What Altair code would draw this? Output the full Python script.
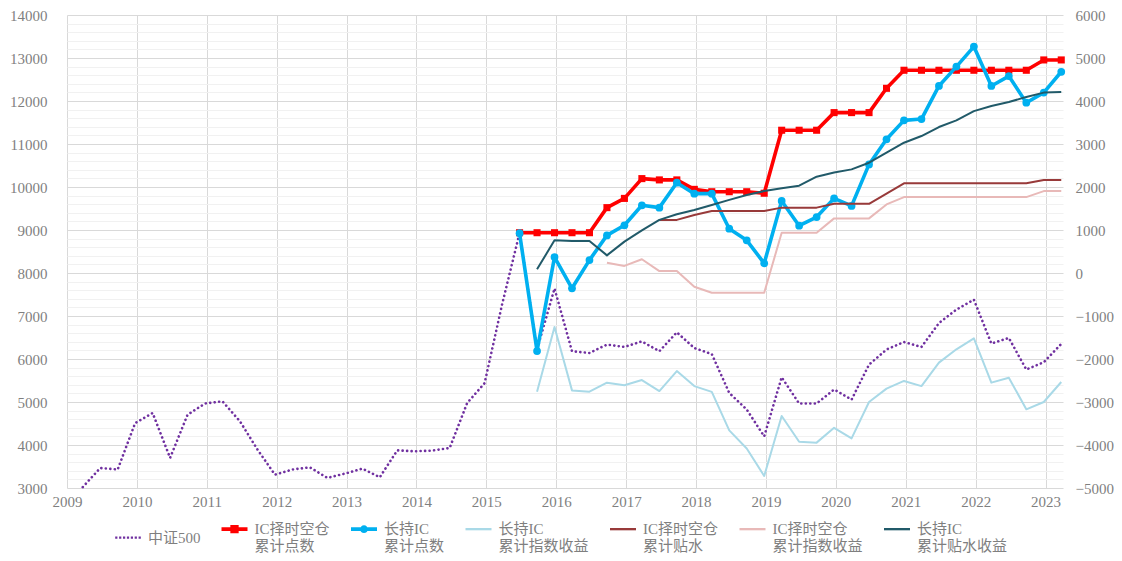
import altair as alt
import pandas as pd

# ---------------- data (quarterly observations) ----------------
start_year = 2009.225
quarter = 0.25

csi500 = [3020, 3465, 3430, 4510, 4745, 3700, 4705, 4965, 5015, 4550,
          3895, 3310, 3430, 3480, 3235, 3335, 3450, 3250, 3875, 3855,
          3870, 3930, 4975, 5440, 7270, 8930, 6220, 7640, 6180, 6140,
          6335, 6280, 6410, 6180, 6620, 6255, 6115, 5210, 4825, 4200,
          5575, 4965, 4965, 5290, 5055, 5870, 6220, 6395, 6280, 6835,
          7150, 7380, 6360, 6490, 5755, 5925, 6350]

ic_timing_points = [937, 937, 937, 937, 937, 1520, 1735, 2195, 2165, 2165,
                    1945, 1890, 1890, 1890, 1855, 3320, 3320, 3320, 3730, 3730,
                    3730, 4295, 4715, 4715, 4715, 4715, 4715, 4715, 4715, 4715,
                    4955, 4955]

hold_ic_points = [925, -1815, 370, -355, 300, 875, 1110, 1575, 1520, 2100,
                  1845, 1845, 1030, 760, 225, 1675, 1100, 1300, 1735, 1560,
                  2525, 3110, 3550, 3580, 4350, 4800, 5265, 4350, 4580, 3960,
                  4195, 4680]

hold_ic_index = [-2760, -1255, -2730, -2760, -2550, -2610, -2490, -2745, -2280, -2630,
                 -2765, -3660, -4080, -4720, -3325, -3925, -3945, -3600, -3845, -3000,
                 -2690, -2510, -2630, -2085, -1775, -1520, -2550, -2435, -3170, -3000,
                 -2535]

ic_timing_basis = [1235, 1235, 1350, 1440, 1440, 1440, 1440, 1520, 1520, 1520,
                   1610, 1610, 1610, 1845, 2085, 2085, 2085, 2085, 2085, 2085,
                   2085, 2085, 2165, 2165]

ic_timing_index = [240, 165, 320, 45, 45, -320, -460, -460, -460, -460,
                   935, 935, 935, 1270, 1270, 1270, 1595, 1765, 1765, 1765,
                   1765, 1765, 1765, 1765, 1765, 1905, 1905]

hold_ic_basis = [85, 760, 745, 745, 410, 730, 990, 1235, 1365, 1465,
                 1580, 1700, 1815, 1905, 1970, 2030, 2240, 2335, 2410, 2565,
                 2800, 3030, 3185, 3395, 3550, 3765, 3885, 3975, 4095, 4195,
                 4210]

series_names = ["中证500", "IC择时空仓|累计点数", "长持IC|累计点数", "长持IC|累计指数收益",
                "IC择时空仓|累计贴水", "IC择时空仓|累计指数收益", "长持IC|累计贴水收益"]
series_colors = ["#7030a0", "#ff0000", "#00b0f0", "#a9d9e7",
                 "#983a3a", "#e8b9b8", "#215a69"]

year_ticks = list(range(2009, 2024))

n = len(csi500)


def pad(vals):
    return [None] * (n - len(vals)) + vals


df = pd.DataFrame({
    "t": [start_year + quarter * i for i in range(n)],
    "csi500": csi500,
    "timing_pts": pad(ic_timing_points),
    "hold_pts": pad(hold_ic_points),
    "hold_idx": pad(hold_ic_index),
    "timing_basis": pad(ic_timing_basis),
    "timing_idx": pad(ic_timing_index),
    "hold_basis": pad(hold_ic_basis),
})

FONT = "Liberation Serif, Noto Sans CJK SC"
GRAY = "#7f7f7f"

# ---------------- legend symbol paths ----------------
DY = 0.55


def rect(x0, y0, x1, y1):
    return f"M{x0:.3f},{y0 + DY:.3f}H{x1:.3f}V{y1 + DY:.3f}H{x0:.3f}Z"


def thin_line(h):
    return rect(-1, -h, 1, h)


dots = "".join(rect(x - 0.085, -0.085, x + 0.085, 0.085)
               for x in [-0.9, -0.6, -0.3, 0.0, 0.3, 0.6, 0.9])
sq_marker = thin_line(0.15) + rect(-0.32, -0.32, 0.32, 0.32)
r = 0.3
circ_marker = thin_line(0.15) + (f"M{-r},{DY}A{r},{r} 0 1,1 {r},{DY}"
                                 f"A{r},{r} 0 1,1 {-r},{DY}Z")
series_shapes = [dots, sq_marker, circ_marker, thin_line(0.09),
                 thin_line(0.09), thin_line(0.09), thin_line(0.09)]

# ---------------- scales / axes ----------------
xenc = alt.X("t:Q",
             scale=alt.Scale(domain=[2009, 2023.25], nice=False, zero=False),
             axis=alt.Axis(values=year_ticks, format="d", title=None, grid=True,
                           gridColor="#d9d9d9", labelPadding=6, labelOverlap=False,
                           labelFlush=False))

left_axis = alt.Axis(
    values=list(range(3000, 14001, 200)), title=None, orient="left",
    labelExpr="datum.value % 1000 === 0 ? datum.label : ''",
    format="d", grid=True, labelOverlap=False, labelFlush=False,
    gridColor={"condition": {"test": "datum.value % 1000 === 0", "value": "#d9d9d9"},
               "value": "#f1f1f1"},
    labelPadding=20, minExtent=59, maxExtent=59)

right_scale = alt.Scale(domain=[-5000, 6000], nice=False, zero=False)
right_axis = alt.Axis(values=list(range(-5000, 6001, 1000)), title=None, orient="right",
                      format="d", grid=False, labelPadding=12, labelOverlap=False,
                      labelFlush=False)

left = alt.Chart(df).mark_line(
    color=series_colors[0], strokeWidth=2.6, strokeDash=[0.1, 4.4], strokeCap="round",
    strokeJoin="round"
).encode(
    x=xenc,
    y=alt.Y("csi500:Q", scale=alt.Scale(domain=[3000, 14000], nice=False, zero=False),
            axis=left_axis),
)


def rline(field, color, width):
    return alt.Chart(df).mark_line(color=color, strokeWidth=width, strokeJoin="round").encode(
        x=xenc, y=alt.Y(f"{field}:Q", scale=right_scale, axis=right_axis))


red_line = rline("timing_pts", series_colors[1], 3.6)
red_pts = alt.Chart(df).mark_point(shape="square", filled=True, size=50, opacity=1,
                                   color=series_colors[1]).encode(
    x=xenc, y=alt.Y("timing_pts:Q", scale=right_scale, axis=right_axis))
blue_line = rline("hold_pts", series_colors[2], 3.6)
blue_pts = alt.Chart(df).mark_point(shape="circle", filled=True, size=60, opacity=1,
                                    color=series_colors[2]).encode(
    x=xenc, y=alt.Y("hold_pts:Q", scale=right_scale, axis=right_axis))
lb_line = rline("hold_idx", series_colors[3], 2)
br_line = rline("timing_basis", series_colors[4], 2)
pk_line = rline("timing_idx", series_colors[5], 2)
tl_line = rline("hold_basis", series_colors[6], 2)

legend = alt.Legend(
    title=None, orient="none", legendX=48, legendY=494, direction="horizontal",
    symbolSize=676, symbolStrokeWidth=0, symbolOpacity=1,
    labelFont=FONT, labelFontSize=15, labelColor=GRAY,
    labelExpr="split(datum.label, '|')", labelLimit=400, labelBaseline="top",
    columnPadding=20.5, labelOffset=7, padding=0)

legend_layer = alt.Chart(pd.DataFrame({"series": series_names})).mark_point(
    filled=True, opacity=0
).encode(
    color=alt.Color("series:N", scale=alt.Scale(domain=series_names, range=series_colors),
                    legend=legend),
    shape=alt.Shape("series:N", scale=alt.Scale(domain=series_names, range=series_shapes),
                    legend=legend),
)

right = alt.layer(red_line, red_pts, blue_line, blue_pts, lb_line, br_line, pk_line,
                  tl_line, legend_layer)

chart = alt.layer(left, right).resolve_scale(y="independent").properties(
    width=996, height=473,
    padding={"left": 0, "top": 0, "right": 0, "bottom": 0},
).configure_view(stroke=None).configure_axis(
    labelFont=FONT, labelFontSize=15, labelColor=GRAY, ticks=False, domain=False
)

chart.save("out.html", embed_options={"renderer": "svg", "actions": False})
